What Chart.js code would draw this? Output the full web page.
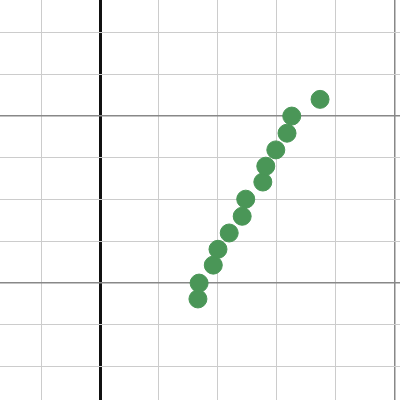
<!DOCTYPE html><html><head><script src="https://cdn.jsdelivr.net/npm/chart.js@4"></script>
<style>html,body{margin:0;padding:0;background:#fff}#c{width:400px;height:400px}</style></head><body>
<div id="c"><canvas id="cv" width="400" height="400"></canvas></div>
<script>
const xValues=[1.66,1.68,1.92,2.0,2.19,2.41,2.47,2.76,2.81,2.98,3.17,3.25,3.73];
const yValues=[3.62,4.0,4.43,4.81,5.2,5.6,6.01,6.42,6.8,7.19,7.59,8.0,8.4];
const xTicks=[-1,0,1,2,3,4,5];
const yTicks=[2,3,4,5,6,7,8,9,10];
const pts=xValues.map((x,i)=>({x:x,y:yValues[i]}));
new Chart(document.getElementById('cv'),{type:'scatter',
data:{datasets:[{data:pts,backgroundColor:'#4a9657',borderColor:'#4a9657',pointRadius:9,pointHoverRadius:9,clip:false}]},
options:{responsive:false,animation:false,layout:{padding:0,autoPadding:false},
plugins:{legend:{display:false},tooltip:{enabled:false}},
scales:{
x:{type:'linear',min:-1.695,max:5.085,afterBuildTicks:a=>{a.ticks=xTicks.map(v=>({value:v}))},
ticks:{display:false,padding:0},border:{display:false},
grid:{drawTicks:false,tickLength:0,color:c=>c.tick.value===0?'#111':(c.tick.value===5?'#888':'#ccc'),lineWidth:c=>c.tick.value===0?3:(c.tick.value===5?1.5:1)}},
y:{type:'linear',min:1.2,max:10.78,afterBuildTicks:a=>{a.ticks=yTicks.map(v=>({value:v}))},
ticks:{display:false,padding:0},border:{display:false},
grid:{drawTicks:false,tickLength:0,color:c=>(c.tick.value%4===0)?'#888':'#ccc',lineWidth:c=>(c.tick.value%4===0)?1.5:1}}
}}});
</script></body></html>
